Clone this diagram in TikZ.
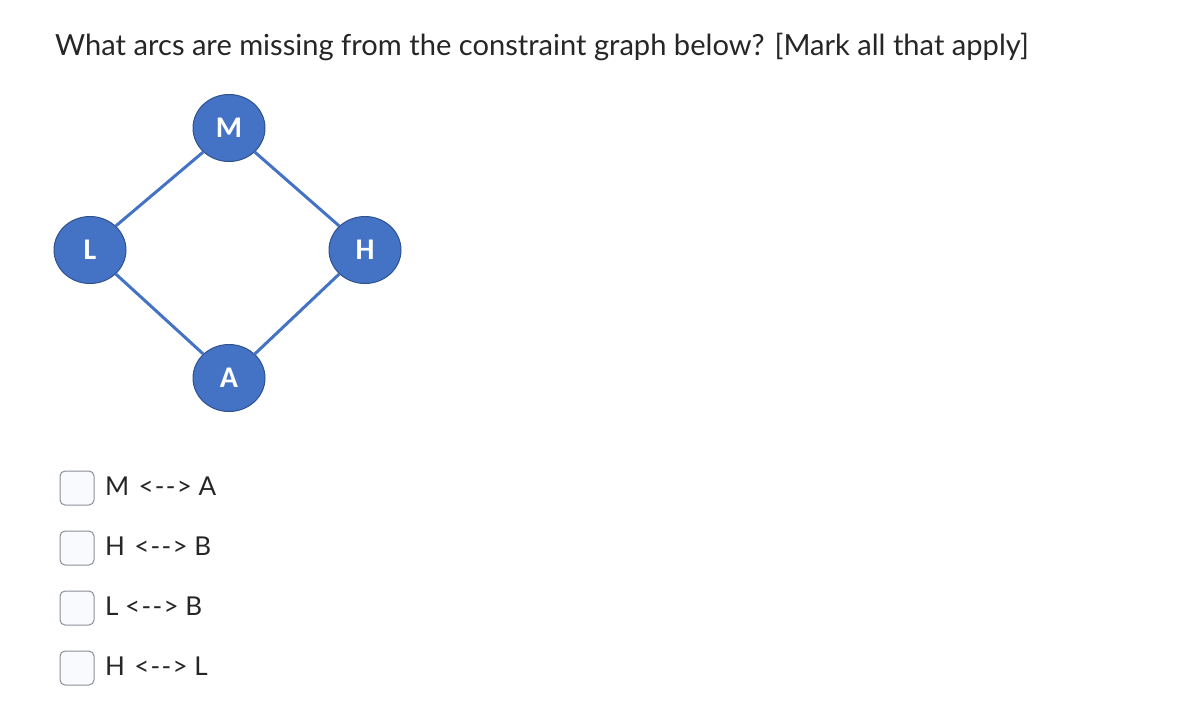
\documentclass[tikz,border=0pt]{standalone}
\usepackage{fontspec}
\setmainfont{Lato}
\newfontfamily\nodefont{Carlito}[UprightFont={* Bold}]
\usetikzlibrary{shapes.geometric}
\definecolor{nodeblue}{HTML}{4472C4}
\definecolor{nodeedge}{HTML}{2F528F}
\definecolor{boxgray}{HTML}{8A8F96}
\definecolor{boxfill}{HTML}{F8FAFE}
\tikzset{
  var/.style={ellipse, draw=nodeedge, line width=1pt, fill=nodeblue, minimum width=72pt, minimum height=67pt, inner sep=0pt, text=white, font=\nodefont\fontsize{30}{30}\selectfont},
  arc/.style={draw=nodeblue, line width=3pt},
  cbox/.style={rectangle, rounded corners=5pt, draw=boxgray, line width=1pt, fill=boxfill, minimum width=34pt, minimum height=34pt, inner sep=0pt},
  opt/.style={anchor=base west, inner sep=0pt, text=black!85, font=\fontsize{26}{26}\selectfont},
  title/.style={anchor=base west, inner sep=0pt, text=black!85, font=\fontsize{29.1}{29}\selectfont}
}
\newcommand{\dd}{\hspace{0.05em}-\hspace{0.05em}-\hspace{0.05em}}
\begin{document}
\begin{tikzpicture}[x=1pt,y=-1pt]
\useasboundingbox (0,0) rectangle (1178,720);
\node[title] (q) at (55,55) {What arcs are missing from the constraint graph below? [Mark all that apply]};
\node[var] (M) at (229,128) {M};
\node[var] (L) at (90,250) {L};
\node[var] (H) at (365,250) {H};
\node[var] (A) at (229,378) {A};
\draw[arc] (L.north east) -- (M.south west);
\draw[arc] (M.south east) -- (H.north west);
\draw[arc] (L.south east) -- (A.north west);
\draw[arc] (A.north east) -- (H.south west);
\node[cbox] (b1) at (77,488) {};
\node[cbox] (b2) at (77,548) {};
\node[cbox] (b3) at (77,608) {};
\node[cbox] (b4) at (77,668) {};
\node[opt] (o1) at (105,495) {M\hspace{0.1em} <\dd> A};
\node[opt] (o2) at (105,555) {H\hspace{0.1em} <\dd> B};
\node[opt] (o3) at (105,615) {L <\dd> B};
\node[opt] (o4) at (105,675) {H\hspace{0.1em} <\dd> L};
\end{tikzpicture}
\end{document}
